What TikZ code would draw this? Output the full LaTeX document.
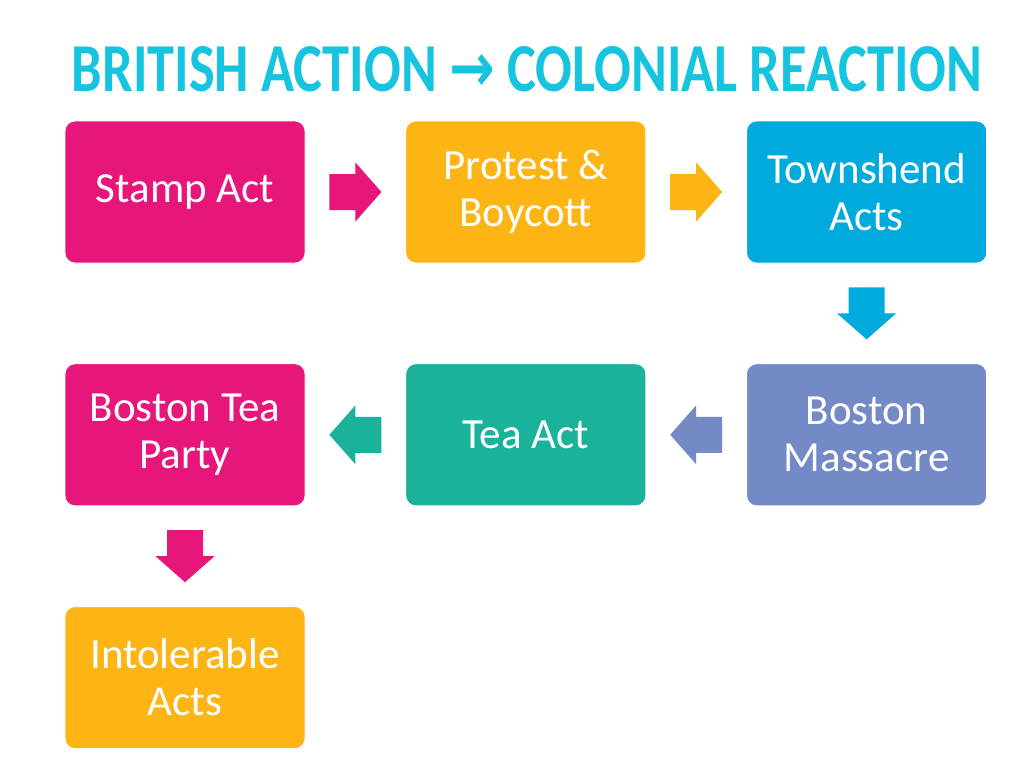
\documentclass[tikz,border=0pt]{standalone}
\usepackage{fontspec}
\usepackage{graphicx}
\setmainfont{Carlito}
\newfontfamily\arrowfont{DejaVu Sans}
\usepackage{tikz}
\definecolor{actpink}{RGB}{230, 22, 122}
\definecolor{actgold}{RGB}{252, 181, 20}
\definecolor{actcyan}{RGB}{0, 170, 221}
\definecolor{actslate}{RGB}{116, 138, 199}
\definecolor{actteal}{RGB}{27, 178, 156}
\definecolor{titlecyan}{RGB}{22, 196, 224}
\usetikzlibrary{positioning, calc}

\begin{document}
\begin{tikzpicture}[
        x=1pt, y=-1pt,
        node distance=100pt,
        box/.style={rectangle, draw=white, line width=0.8pt, fill=#1,
                    minimum width=240pt, minimum height=142pt, align=center,
                    rounded corners=10pt, inner sep=0pt, text=white,
                    font=\fontsize{43}{47}\selectfont},
        pics/flow/.style={code={
            \fill (-26,-18) -- (0,-18) -- (0,-29.5) -- (26,0) -- (0,29.5) -- (0,18) -- (-26,18) -- cycle;}}
    ]
        \useasboundingbox (0,0) rectangle (1024,768);
        \node[text=titlecyan, anchor=base] (title) at (527,92)
            {\resizebox{910pt}{45pt}{\bfseries BRITISH ACTION {\arrowfont →} COLONIAL REACTION}};

        \node[box=actpink] (stamp) at (185,192) {Stamp Act};
        \node[box=actgold, right=of stamp] (protest) {Protest \&\\Boycott};
        \node[box=actcyan, right=of protest] (townshend) {Townshend\\Acts};
        \node[box=actslate, below=of townshend] (massacre) {Boston\\Massacre};
        \node[box=actteal, left=of massacre] (teaact) {Tea Act};
        \node[box=actpink, left=of teaact] (teaparty) {Boston Tea\\Party};
        \node[box=actgold, below=of teaparty] (intolerable) {Intolerable\\Acts};

        \pic[fill=actpink] at ($(stamp.east)!0.5!(protest.west)$) {flow};
        \pic[fill=actgold] at ($(protest.east)!0.5!(townshend.west)$) {flow};
        \pic[fill=actcyan, rotate=-90] at ($(townshend.south)!0.5!(massacre.north)$) {flow};
        \pic[fill=actslate, rotate=180] at ($(massacre.west)!0.5!(teaact.east)$) {flow};
        \pic[fill=actteal, rotate=180] at ($(teaact.west)!0.5!(teaparty.east)$) {flow};
        \pic[fill=actpink, rotate=-90] at ($(teaparty.south)!0.5!(intolerable.north)$) {flow};
    \end{tikzpicture}
\end{document}
